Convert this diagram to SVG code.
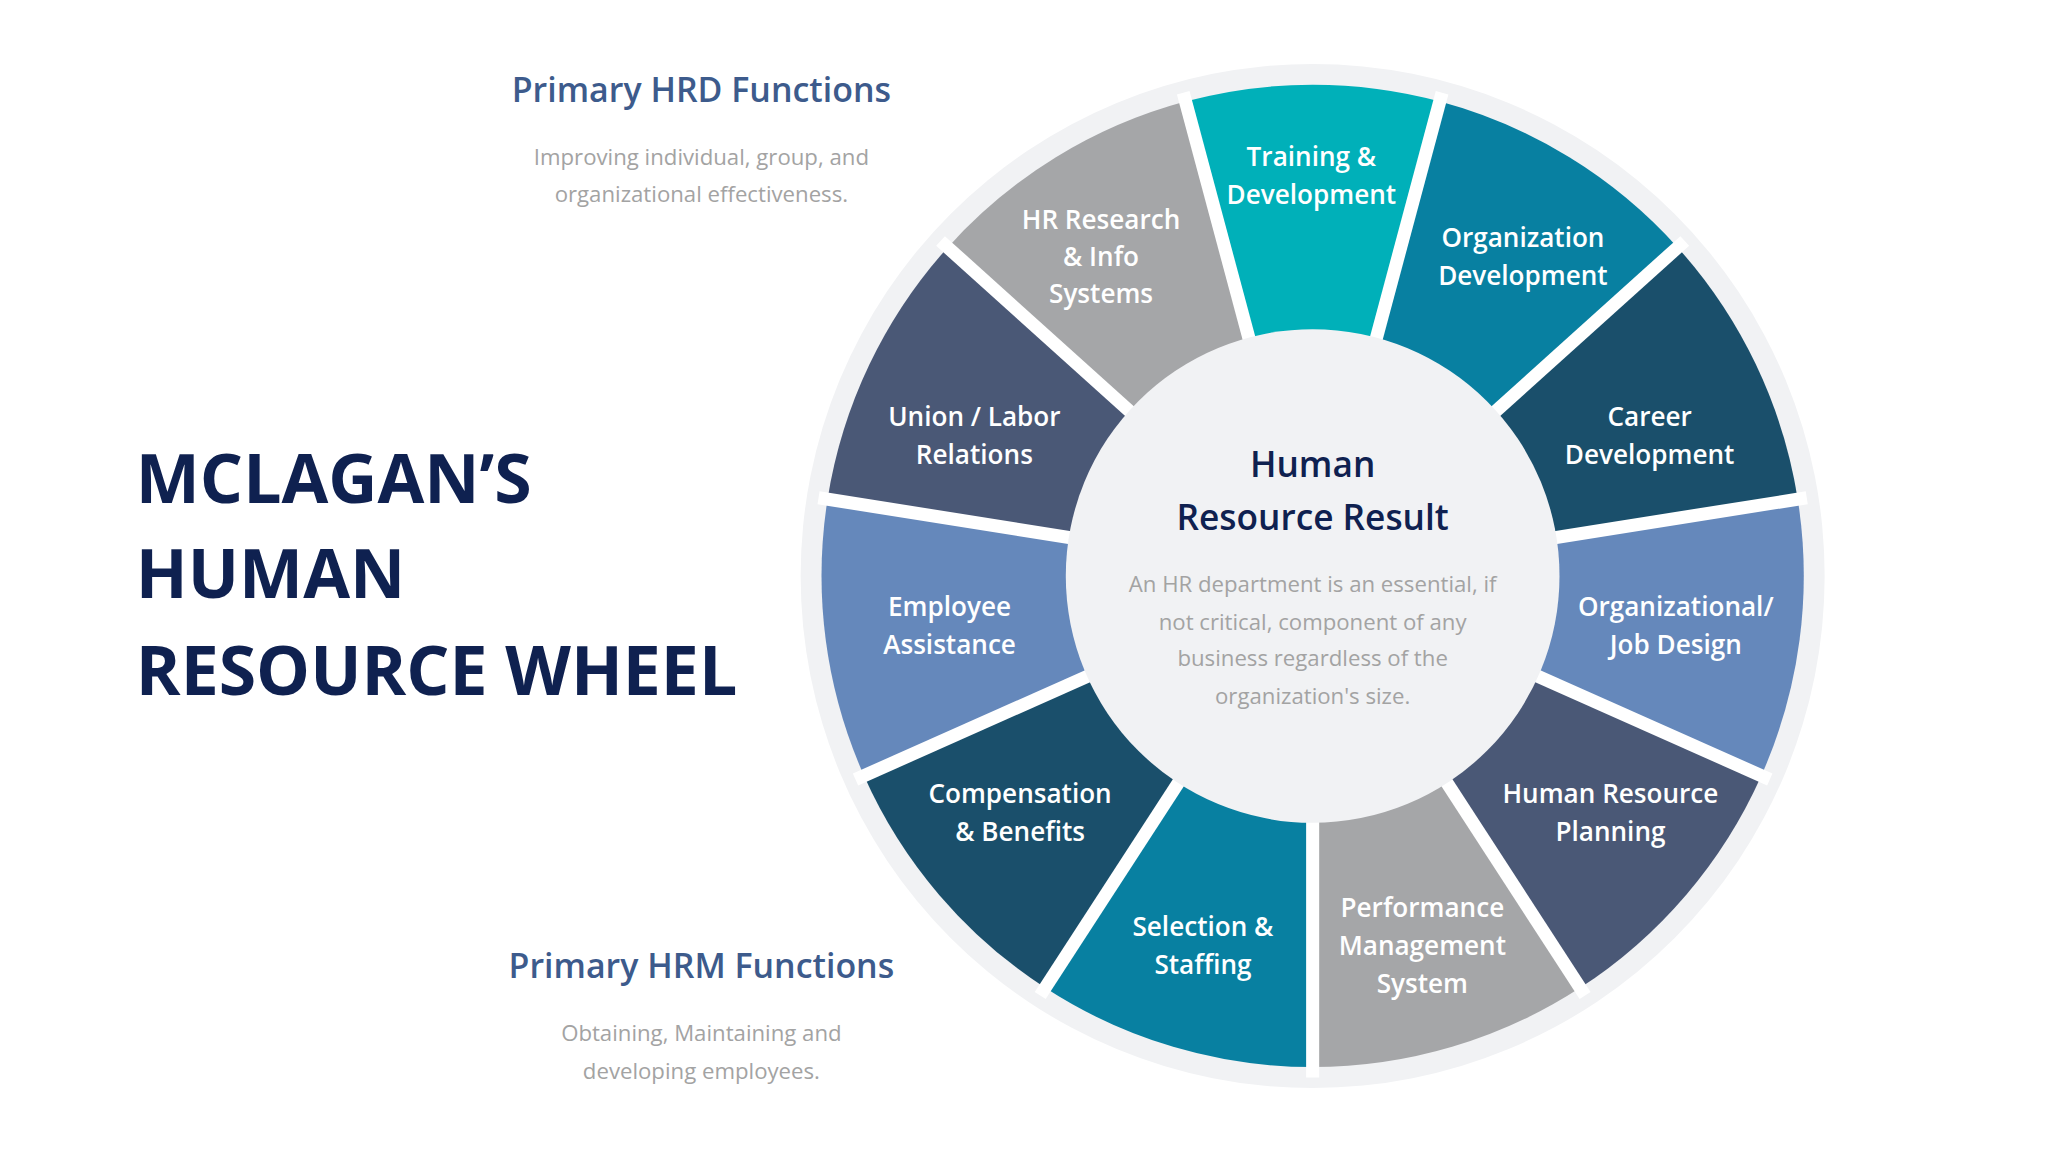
<svg xmlns="http://www.w3.org/2000/svg" width="2048" height="1152" viewBox="0 0 2048 1152">
<style>
.t{font-family:"Open Sans","Noto Sans",sans-serif}
.lbl{font-family:"Open Sans","Noto Sans",sans-serif;font-size:20px;font-weight:600;fill:#fff;text-anchor:middle}
.gap{stroke:#fff;stroke-width:10}
.sub{font-family:"Open Sans","Noto Sans",sans-serif;font-size:17px;fill:#a3a3a3;text-anchor:middle}
.hd{font-family:"Open Sans","Noto Sans",sans-serif;font-size:26px;font-weight:600;fill:#3d5b8c;text-anchor:middle}
</style>
<rect width="2048" height="1152" fill="#fff"/>
<g transform="scale(1.30612)">
<g id="title" class="t" font-size="52" font-weight="700" fill="#0f2150">
<text x="104" y="385">MCLAGAN’S</text>
<text x="104" y="458">HUMAN</text>
<text x="104" y="532">RESOURCE WHEEL</text>
</g>
<g id="hrd">
<text class="hd" x="537" y="78">Primary HRD Functions</text>
<text class="sub" x="537" y="126">Improving individual, group, and</text>
<text class="sub" x="537" y="155">organizational effectiveness.</text>
</g>
<g id="hrm">
<text class="hd" x="537" y="749">Primary HRM Functions</text>
<text class="sub" x="537" y="797">Obtaining, Maintaining and</text>
<text class="sub" x="537" y="826">developing employees.</text>
</g>
<circle cx="1005" cy="441" r="392" fill="#f1f2f4"/>
<g id="segments">
<g id="s1"><path d="M907.4,77.8 A376,376 0 0 1 1102.6,77.8 L1005,441Z" fill="#00b0b9"/><text class="lbl" x="1004" y="127">Training &amp;</text><text class="lbl" x="1004" y="156">Development</text></g>
<g id="s2"><path d="M1102.6,77.8 A376,376 0 0 1 1284.4,189.4 L1005,441Z" fill="#0880a1"/><text class="lbl" x="1166" y="189">Organization</text><text class="lbl" x="1166" y="218">Development</text></g>
<g id="s3"><path d="M1284.4,189.4 A376,376 0 0 1 1376.4,382.2 L1005,441Z" fill="#1a4f6b"/><text class="lbl" x="1263" y="326">Career</text><text class="lbl" x="1263" y="355">Development</text></g>
<g id="s4"><path d="M1376.4,382.2 A376,376 0 0 1 1348.5,593.9 L1005,441Z" fill="#6588bb"/><text class="lbl" x="1283" y="472">Organizational/</text><text class="lbl" x="1283" y="501">Job Design</text></g>
<g id="s5"><path d="M1348.5,593.9 A376,376 0 0 1 1209.8,756.3 L1005,441Z" fill="#4a5876"/><text class="lbl" x="1233" y="615">Human Resource</text><text class="lbl" x="1233" y="644">Planning</text></g>
<g id="s6"><path d="M1209.8,756.3 A376,376 0 0 1 1005,817 L1005,441Z" fill="#a5a6a8"/><text class="lbl" x="1089" y="702">Performance</text><text class="lbl" x="1089" y="731">Management</text><text class="lbl" x="1089" y="760">System</text></g>
<g id="s7"><path d="M1005,817 A376,376 0 0 1 800.2,756.3 L1005,441Z" fill="#0880a1"/><text class="lbl" x="921" y="717">Selection &amp;</text><text class="lbl" x="921" y="746">Staffing</text></g>
<g id="s8"><path d="M800.2,756.3 A376,376 0 0 1 661.5,593.9 L1005,441Z" fill="#1a4f6b"/><text class="lbl" x="781" y="615">Compensation</text><text class="lbl" x="781" y="644">&amp; Benefits</text></g>
<g id="s9"><path d="M661.5,593.9 A376,376 0 0 1 633.6,382.2 L1005,441Z" fill="#6588bb"/><text class="lbl" x="727" y="472">Employee</text><text class="lbl" x="727" y="501">Assistance</text></g>
<g id="s10"><path d="M633.6,382.2 A376,376 0 0 1 725.6,189.4 L1005,441Z" fill="#4a5876"/><text class="lbl" x="746" y="326">Union / Labor</text><text class="lbl" x="746" y="355">Relations</text></g>
<g id="s11"><path d="M725.6,189.4 A376,376 0 0 1 907.4,77.8 L1005,441Z" fill="#a5a6a8"/><text class="lbl" x="843" y="175">HR Research</text><text class="lbl" x="843" y="204">&amp; Info</text><text class="lbl" x="843" y="232">Systems</text></g>
</g>
<g id="connectors">
<line class="gap" x1="1005" y1="441" x2="905.9" y2="71.0"/>
<line class="gap" x1="1005" y1="441" x2="1104.1" y2="71.0"/>
<line class="gap" x1="1005" y1="441" x2="1289.9" y2="184.5"/>
<line class="gap" x1="1005" y1="441" x2="1383.3" y2="381.1"/>
<line class="gap" x1="1005" y1="441" x2="1355.0" y2="596.8"/>
<line class="gap" x1="1005" y1="441" x2="1213.6" y2="762.2"/>
<line class="gap" x1="1005" y1="441" x2="1005" y2="825"/>
<line class="gap" x1="1005" y1="441" x2="796.4" y2="762.2"/>
<line class="gap" x1="1005" y1="441" x2="655.0" y2="596.8"/>
<line class="gap" x1="1005" y1="441" x2="626.7" y2="381.1"/>
<line class="gap" x1="1005" y1="441" x2="720.1" y2="184.5"/>
</g>
<g id="center">
<circle cx="1005" cy="441" r="189" fill="#f1f2f4"/>
<text class="t" x="1005" y="365" font-size="27" font-weight="600" fill="#0f2150" text-anchor="middle">Human</text>
<text class="t" x="1005" y="406" font-size="27" font-weight="600" fill="#0f2150" text-anchor="middle">Resource Result</text>
<text class="sub" x="1005" y="453">An HR department is an essential, if</text>
<text class="sub" x="1005" y="482">not critical, component of any</text>
<text class="sub" x="1005" y="510">business regardless of the</text>
<text class="sub" x="1005" y="539">organization's size.</text>
</g>
</g>
</svg>
